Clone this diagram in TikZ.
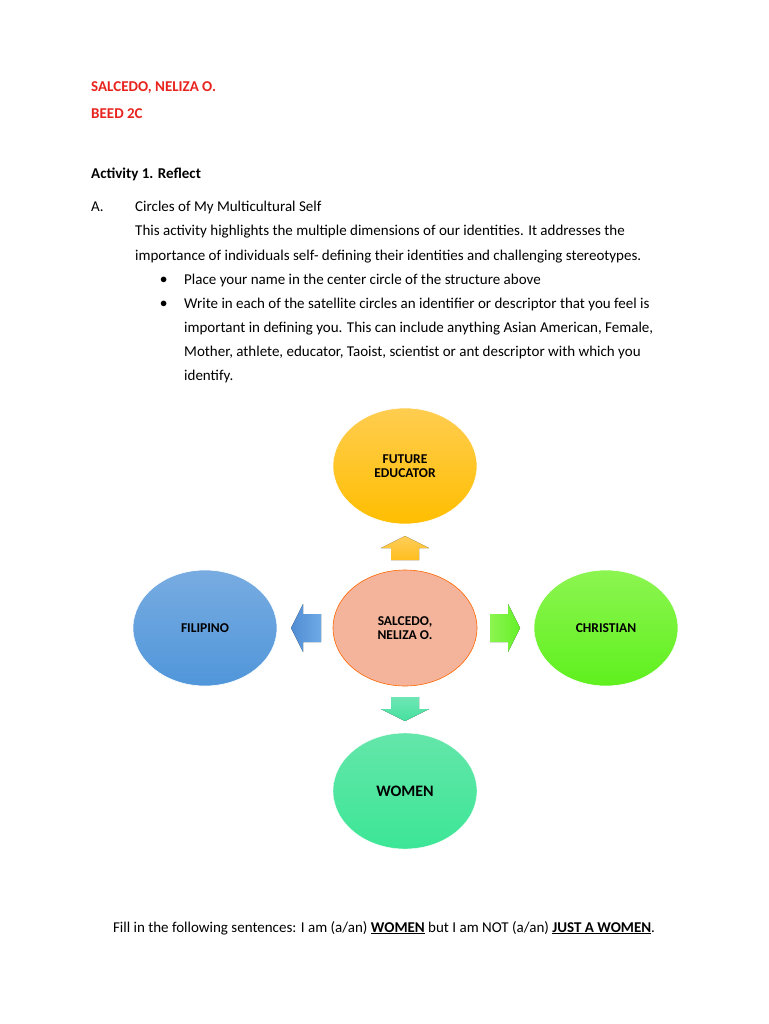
\documentclass[tikz,border=0pt]{standalone}
\usepackage{fontspec}
\setmainfont{Carlito}
\usetikzlibrary{shapes.geometric}
\definecolor{redt}{HTML}{E8231E}
\tikzset{
 txt/.style={anchor=base west,inner sep=0pt,font=\fontsize{15}{17}\selectfont},
 circ/.style={ellipse,minimum width=144pt,minimum height=116pt,align=center,inner sep=0pt,font=\fontsize{13.5}{14}\selectfont\bfseries},
}
\begin{document}
\begin{tikzpicture}[x=1pt,y=-1pt]
\useasboundingbox (0,0) rectangle (768,1024);
\fill[white] (0,0) rectangle (768,1024);
\node[txt,text=redt,font=\fontsize{15}{17}\selectfont\bfseries] (n1) at (91,92) {SALCEDO, NELIZA O.};
\node[txt,text=redt,font=\fontsize{15}{17}\selectfont\bfseries] (n2) at (91,119) {BEED 2C};
\node[txt,font=\fontsize{15}{17}\selectfont\bfseries] (n3) at (91,179) {Activity 1. Reflect};
\node[txt] (a) at (91,212) {A.};
\node[txt] (t1) at (135,212) {Circles of My Multicultural Self};
\node[txt] (t2) at (135,236) {This activity highlights the multiple dimensions of our identities. It addresses the};
\node[txt] (t3) at (135,260) {importance of individuals self- defining their identities and challenging stereotypes.};
\node[txt] (b1) at (160,283) {$\bullet$};
\node[txt] (t4) at (184,284) {Place your name in the center circle of the structure above};
\node[txt] (b2) at (160,307) {$\bullet$};
\node[txt] (t5) at (184,308) {Write in each of the satellite circles an identifier or descriptor that you feel is};
\node[txt] (t6) at (184,332) {important in defining you. This can include anything Asian American, Female,};
\node[txt] (t7) at (184,356) {Mother, athlete, educator, Taoist, scientist or ant descriptor with which you};
\node[txt] (t8) at (184,380) {identify.};

\node[circ,draw=white,top color={rgb,255:red,255;green,205;blue,80},bottom color={rgb,255:red,255;green,190;blue,0},line width=0.6pt] (top) at (405,466) {FUTURE\\EDUCATOR};
\node[circ,draw=white,top color={rgb,255:red,120;green,172;blue,225},bottom color={rgb,255:red,80;green,150;blue,218},line width=0.6pt] (left) at (205,628) {FILIPINO};
\node[circ,draw=orange!80!red,fill={rgb,255:red,244;green,180;blue,155},line width=0.6pt] (mid) at (405,628) {SALCEDO,\\NELIZA O.};
\node[circ,draw=white,top color={rgb,255:red,140;green,245;blue,80},bottom color={rgb,255:red,95;green,240;blue,30},line width=0.6pt] (right) at (606,628) {CHRISTIAN};
\node[circ,draw=white,top color={rgb,255:red,100;green,230;blue,170},bottom color={rgb,255:red,60;green,230;blue,150},font=\fontsize{16}{18}\selectfont\bfseries] (bot) at (405,791) {WOMEN};

\fill[top color={rgb,255:red,255;green,205;blue,90},bottom color={rgb,255:red,255;green,190;blue,30}] (381,548) -- (405,536) -- (429,548) -- (419,548) -- (419,560) -- (391,560) -- (391,548) -- cycle;
\fill[left color={rgb,255:red,80;green,140;blue,210},right color={rgb,255:red,110;green,170;blue,230}] (291,628) -- (303,604) -- (303,614) -- (321,614) -- (321,642) -- (303,642) -- (303,652) -- cycle;
\fill[left color={rgb,255:red,140;green,245;blue,80},right color={rgb,255:red,100;green,240;blue,40}] (520,628) -- (508,604) -- (508,614) -- (490,614) -- (490,642) -- (508,642) -- (508,652) -- cycle;
\fill[top color={rgb,255:red,110;green,230;blue,180},bottom color={rgb,255:red,70;green,225;blue,160}] (381,709) -- (405,721) -- (429,709) -- (419,709) -- (419,697) -- (391,697) -- (391,709) -- cycle;

\node[anchor=base,inner sep=0pt,font=\fontsize{15}{17}\selectfont] (fill) at (384,932) {Fill in the following sentences: I am (a/an) \textbf{\underline{WOMEN}} but I am NOT (a/an) \textbf{\underline{JUST A WOMEN}}.};
\end{tikzpicture}
\end{document}
